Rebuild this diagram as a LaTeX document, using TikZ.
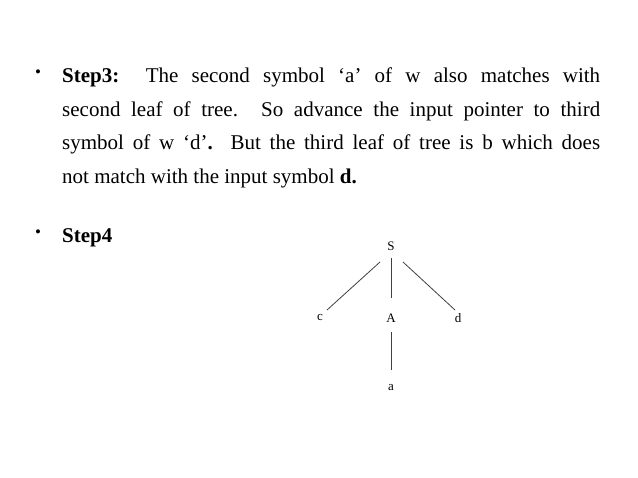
\documentclass[tikz,border=0pt]{standalone}
\usepackage{fontspec}
\setmainfont{Liberation Serif}
\begin{document}
\begin{tikzpicture}[x=1pt,y=-1pt,
  txt/.style={anchor=north west,inner sep=0pt,font=\fontsize{21}{33.5}\selectfont},
  tn/.style={font=\fontsize{13}{15}\selectfont,inner sep=0pt},
  edge/.style={draw=black!75,line width=0.8pt}]
\useasboundingbox (0,0) rectangle (638,478);
\node[txt] (b1) at (35,70) {\fontsize{17}{20}\selectfont •};
\node[txt,text width=538pt,align=justify] (p1) at (62,68)
 {\textbf{Step3:}\ \ The second symbol ‘a’ of w also matches with\linebreak second leaf of tree. So advance the input pointer to third\linebreak symbol of w ‘d’\textbf{.} But the third leaf of tree is b which does\linebreak not match with the input symbol \textbf{d.}};
\node[txt] (b2) at (35,230) {\fontsize{17}{20}\selectfont •};
\node[txt] (p2) at (62,228) {\textbf{Step4}};
\node[tn] (S) at (391,246) {S};
\node[tn] (c) at (320,318) {c};
\node[tn] (A) at (391,318) {A};
\node[tn] (d) at (458,318) {d};
\node[tn] (a) at (391,388) {a};
\coordinate (s1) at (380,262); \coordinate (c1) at (327,310);
\coordinate (s2) at (403,262); \coordinate (d1) at (455,310);
\draw[edge] (s1) -- (c1);
\draw[edge] (s2) -- (d1);
\draw[edge] (391,258) -- (391,298);
\draw[edge] (391,332) -- (391,370);
\end{tikzpicture}
\end{document}
